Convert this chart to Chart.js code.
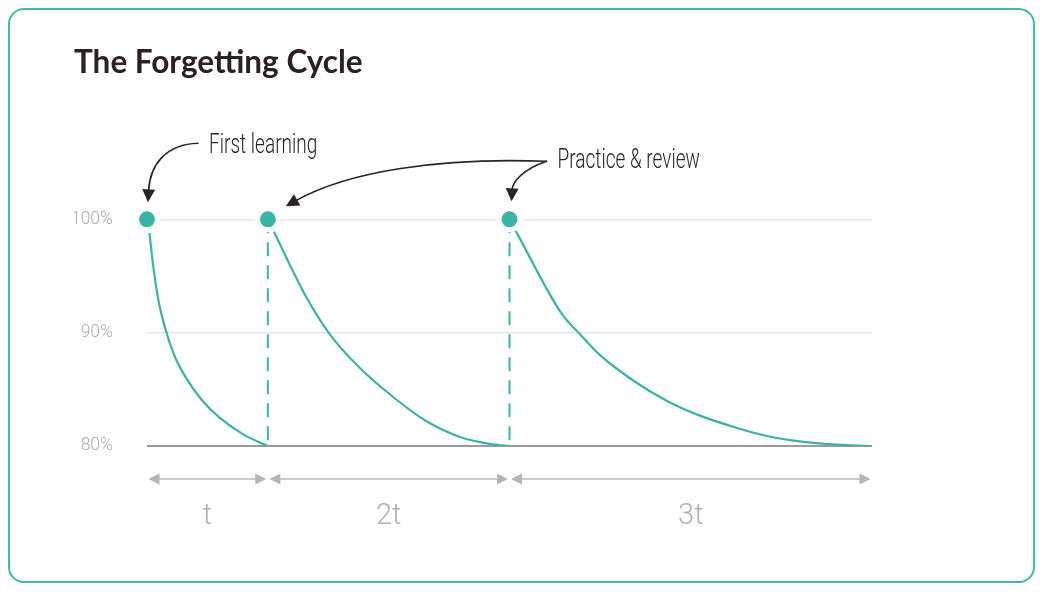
<!DOCTYPE html>
<html lang="en">
<head>
  <meta charset="UTF-8">
  <title>The Forgetting Cycle</title>
  <script src="https://cdn.jsdelivr.net/npm/chart.js"></script>
  <style>
    body { margin: 0; background: #fff; }
    #frame { position: absolute; left: 8px; top: 8px; width: 1027px; height: 575px; box-sizing: border-box;
             border: 2px solid #40b9a6; border-radius: 16px; pointer-events: none; }
    #wrap { position: absolute; left: 0; top: 0; width: 1043px; height: 592px; }
  </style>
</head>
<body>
  <div id="wrap"><canvas id="chart"></canvas></div>
  <div id="frame"></div>

  <script>
    // review moments (in units of t) – all start back at 100%
    const reviewX = [0, 1, 3];
    const reviewY = [100, 100, 100];
    const dashX = [1, 3];

    // forgetting curves
    const curve1X = [0.02, 0.05, 0.09, 0.15, 0.23, 0.33, 0.45, 0.6, 0.8, 1.0];
    const curve1Y = [98.8, 96.0, 93.1, 90.4, 87.9, 85.9, 84.1, 82.5, 81.0, 80.0];
    const curve2X = [1.05, 1.32, 1.51, 1.76, 2.04, 2.31, 2.59, 2.86, 3.0];
    const curve2Y = [98.9, 93.1, 89.9, 86.9, 84.3, 82.2, 80.8, 80.15, 80.0];
    const curve3X = [3.05, 3.43, 3.58, 3.74, 4.02, 4.30, 4.57, 4.85, 5.12, 5.40, 5.67, 6.0];
    const curve3Y = [99.0, 91.7, 89.9, 88.1, 85.8, 84.0, 82.7, 81.7, 80.9, 80.4, 80.15, 80.0];

    // interval arrows under the axis
    const spanStart = [0, 1, 3];
    const spanEnd = [1, 3, 6];
    const tickValues = [0.5, 2, 4.5];
    const tickLabels = ['t', '2t', '3t'];

    const noteTexts = ['First learning', 'Practice & review'];

    const teal = '#3cb4a4';
    const ink = '#2d2326';

    const pts = (xs, ys) => xs.map((x, i) => ({ x: x, y: ys[i] }));

    function arrow(ctx, x0, y0, c1x, c1y, c2x, c2y, tx, ty) {
      const ang = Math.atan2(ty - c2y, tx - c2x);
      const len = 13, half = 6.5;
      const bx = tx - Math.cos(ang) * len, by = ty - Math.sin(ang) * len;
      ctx.beginPath();
      ctx.moveTo(x0, y0);
      ctx.bezierCurveTo(c1x, c1y, c2x, c2y, bx + Math.cos(ang) * 2, by + Math.sin(ang) * 2);
      ctx.stroke();
      ctx.beginPath();
      ctx.moveTo(tx, ty);
      ctx.lineTo(bx - Math.sin(ang) * half, by + Math.cos(ang) * half);
      ctx.lineTo(bx + Math.sin(ang) * half, by - Math.cos(ang) * half);
      ctx.closePath();
      ctx.fill();
    }

    function note(ctx, text, x, y) {
      ctx.save();
      ctx.translate(x, y);
      ctx.scale(0.68, 1);
      ctx.fillText(text, 0, 0);
      ctx.restore();
    }

    const extras = {
      id: 'extras',
      afterDraw(chart) {
        const ctx = chart.ctx;
        const xs = chart.scales.x, ys = chart.scales.y;
        const px = v => xs.getPixelForValue(v);
        const top = ys.getPixelForValue(100);

        // interval arrows
        const ay = chart.chartArea.bottom + 33;
        ctx.save();
        ctx.strokeStyle = '#bababa';
        ctx.fillStyle = '#b5b5b5';
        ctx.lineWidth = 1.5;
        for (let i = 0; i < spanStart.length; i++) {
          const a = px(spanStart[i]) + 1.5, b = px(spanEnd[i]) - 1.5;
          ctx.beginPath();
          ctx.moveTo(a + 8, ay); ctx.lineTo(b - 8, ay); ctx.stroke();
          ctx.beginPath();
          ctx.moveTo(a, ay); ctx.lineTo(a + 11, ay - 5.5); ctx.lineTo(a + 11, ay + 5.5); ctx.closePath(); ctx.fill();
          ctx.beginPath();
          ctx.moveTo(b, ay); ctx.lineTo(b - 11, ay - 5.5); ctx.lineTo(b - 11, ay + 5.5); ctx.closePath(); ctx.fill();
        }
        ctx.restore();

        // hand-drawn style notes
        const p0 = px(reviewX[0]), p1 = px(reviewX[1]), p3 = px(reviewX[2]);
        ctx.save();
        ctx.strokeStyle = ink;
        ctx.fillStyle = ink;
        ctx.lineWidth = 1.6;
        ctx.lineCap = 'round';
        arrow(ctx, p0 + 51, top - 76, p0 + 20, top - 75, p0 + 3, top - 56, p0 + 1, top - 17);
        arrow(ctx, p3 + 37, top - 58, p3 - 70, top - 62, p1 + 80, top - 48, p1 + 18, top - 13);
        arrow(ctx, p3 + 37, top - 58, p3 + 14, top - 50, p3 + 3, top - 38, p3 + 2, top - 18);
        ctx.font = '300 28px Roboto';
        ctx.textBaseline = 'alphabetic';
        note(ctx, noteTexts[0], p0 + 62, top - 66);
        note(ctx, noteTexts[1], p3 + 48, top - 51);
        ctx.restore();
      }
    };

    const lineStyle = { borderColor: teal, borderWidth: 2.2, pointRadius: 0, cubicInterpolationMode: 'monotone', fill: false, order: 2 };

    const datasets = [
      Object.assign({ data: pts(curve1X, curve1Y) }, lineStyle),
      Object.assign({ data: pts(curve2X, curve2Y) }, lineStyle),
      Object.assign({ data: pts(curve3X, curve3Y) }, lineStyle)
    ];
    dashX.forEach(x => {
      datasets.push({ data: [{ x: x, y: 100 }, { x: x, y: 80 }], borderColor: teal, borderWidth: 2,
        borderDash: [14, 9], pointRadius: 0, order: 1 });
    });
    datasets.push({
      data: pts(reviewX, reviewY), showLine: false, pointRadius: 10.5, pointHoverRadius: 10.5,
      pointBorderWidth: 5, pointBackgroundColor: teal, pointBorderColor: '#fff', clip: false, order: 0
    });

    new Chart(document.getElementById('chart').getContext('2d'), {
      type: 'line',
      data: { datasets: datasets },
      options: {
        responsive: true,
        maintainAspectRatio: false,
        animation: false,
        layout: { padding: { top: 44, left: 74, right: 171, bottom: 46 } },
        plugins: {
          legend: { display: false },
          tooltip: { enabled: false },
          title: {
            display: true, text: 'The Forgetting Cycle', align: 'start', color: '#2b2024',
            font: { family: 'Lato', size: 31.5, weight: 'bold', lineHeight: 1.2 },
            padding: { top: 0, bottom: 137.5 }
          }
        },
        scales: {
          x: {
            type: 'linear', min: 0, max: 6,
            grid: { display: false, drawTicks: false },
            border: { display: false },
            afterBuildTicks: s => { s.ticks = tickValues.map(v => ({ value: v })); },
            afterFit: s => { s.height = 100; },
            ticks: {
              callback: v => tickLabels[tickValues.indexOf(v)],
              padding: 53, maxRotation: 0, autoSkip: false, color: '#b0b0b0',
              font: { family: "'Liberation Sans Narrow', Roboto", size: 29, weight: 300 }
            }
          },
          y: {
            min: 80, max: 100,
            afterFit: s => { s.width = 73; },
            border: { display: false },
            grid: {
              drawTicks: false,
              color: c => c.tick.value === 80 ? '#9b9b9b' : '#e6e6e6',
              lineWidth: c => c.tick.value === 80 ? 2 : 1.5
            },
            ticks: {
              stepSize: 10, padding: 34, color: '#adadad',
              callback: v => v + '%',
              font: { family: "'Liberation Sans Narrow', Roboto", size: 17.5, weight: 300 }
            }
          }
        }
      },
      plugins: [extras]
    });
  </script>
</body>
</html>
